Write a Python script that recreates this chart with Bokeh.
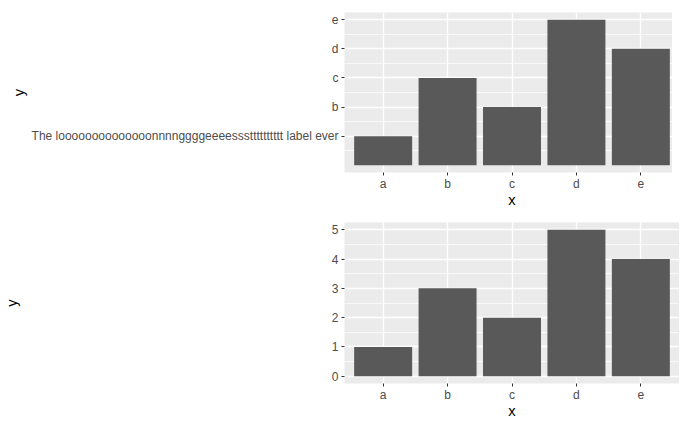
from bokeh.plotting import figure
from bokeh.layouts import column
from bokeh.models import FactorRange, Range1d, FixedTicker
from bokeh.embed import file_html
from bokeh.resources import INLINE

categories = ["a", "b", "c", "d", "e"]
values = [1, 3, 2, 5, 4]
top_tick_values = [1, 2, 3, 4, 5]
top_tick_labels = ["The loooooooooooooonnnnggggeeeessstttttttttt label ever", "b", "c", "d", "e"]
bottom_tick_values = [0, 1, 2, 3, 4, 5]
minor_values = [0.5, 1.5, 2.5, 3.5, 4.5]

FONT = "Liberation Sans"
PANEL = "#EBEBEB"
BAR = "#595959"


def make_panel(ticks, labels, min_top, min_bottom, frame_h, title_standoff):
    p = figure(
        x_range=FactorRange(*categories, range_padding=0.04, range_padding_units="percent"),
        y_range=Range1d(-0.25, 5.25),
        frame_width=335, frame_height=frame_h,
        min_border_left=336, min_border_right=0,
        min_border_top=min_top, min_border_bottom=min_bottom,
        toolbar_location=None, output_backend="svg",
        background_fill_color=PANEL, border_fill_color="white",
    )
    p.outline_line_color = None
    p.vbar(x=categories, top=values, width=0.9, fill_color=BAR, line_color=None)
    p.yaxis.ticker = FixedTicker(ticks=ticks, minor_ticks=minor_values)
    if labels is not None:
        p.yaxis.major_label_overrides = {t: l for t, l in zip(ticks, labels)}
    for ax in (p.xaxis[0], p.yaxis[0]):
        ax.axis_line_color = None
        ax.major_tick_in = 0
        ax.major_tick_out = 3
        ax.major_tick_line_color = "#333333"
        ax.major_tick_line_width = 1
        ax.minor_tick_line_color = None
        ax.major_label_text_font = FONT
        ax.major_label_text_font_size = "12px"
        ax.major_label_text_color = "#4D4D4D"
        ax.major_label_standoff = 2
        ax.axis_label_text_font = FONT
        ax.axis_label_text_font_size = "14.7px"
        ax.axis_label_text_font_style = "normal"
        ax.axis_label_text_color = "black"
    p.xaxis.axis_label = "x"
    p.xaxis.major_label_standoff = 1
    p.xaxis.axis_label_standoff = -2
    p.yaxis.axis_label = "y"
    p.yaxis.axis_label_standoff = title_standoff
    p.xgrid.grid_line_color = "white"
    p.xgrid.grid_line_width = 1.4
    p.ygrid.grid_line_color = "white"
    p.ygrid.grid_line_width = 1.4
    p.ygrid.minor_grid_line_color = "white"
    p.ygrid.minor_grid_line_width = 0.7
    return p


p1 = make_panel(top_tick_values, top_tick_labels, 12, 37, 160, 2)
p2 = make_panel(bottom_tick_values, None, 12, 37, 161, 309)

layout = column(p1, p2, spacing=0)
open("out.html", "w").write(file_html(layout, INLINE))
